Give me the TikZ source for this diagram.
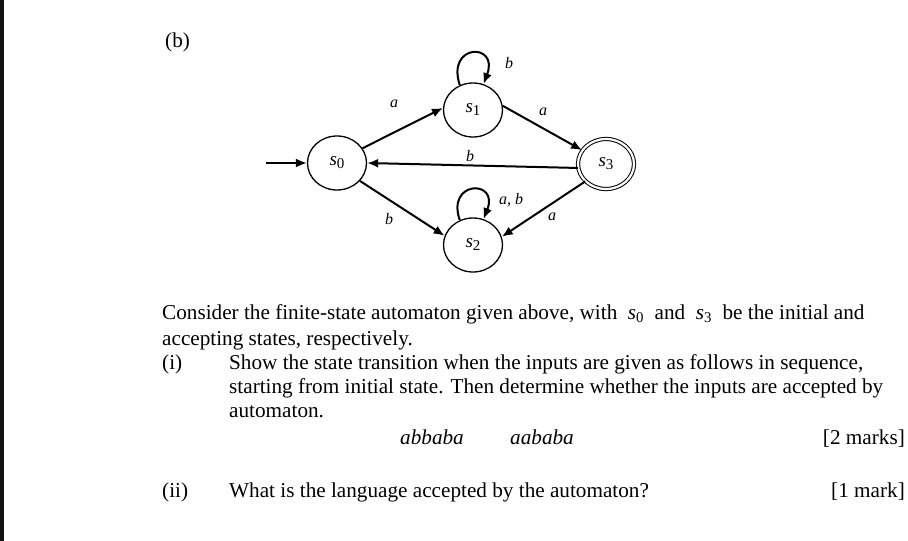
\documentclass[tikz,border=0pt]{standalone}
\usepackage{fontspec}
\setmainfont{Liberation Serif}
\usetikzlibrary{arrows.meta,shapes.geometric}
\begin{document}
\begin{tikzpicture}[x=1pt,y=1pt,
  state/.style={draw, ellipse, line width=1.3pt, minimum width=59pt, minimum height=54pt, inner sep=0pt, font=\fontsize{19}{19}\selectfont},
  accstate/.style={state, line width=1pt, double, double distance=2.2pt, minimum width=56pt, minimum height=50pt},
  tr/.style={-{Latex[length=11pt,width=9pt]}, line width=2pt},
  lbl/.style={font=\fontsize{16}{16}\selectfont\itshape, inner sep=0pt},
  txt/.style={anchor=base west, inner sep=0pt, font=\fontsize{21.2}{21.2}\selectfont},
  txtr/.style={anchor=base east, inner sep=0pt, font=\fontsize{21.2}{21.2}\selectfont},
]
\useasboundingbox (0,0) rectangle (908,-541);
\fill[black!93] (0,0) rectangle (4,-541);

% states
\node[state] (s0) at (337,-163) {\textit{s}\raisebox{-3pt}{\fontsize{15}{15}\selectfont 0}};
\node[state] (s1) at (473,-110) {\textit{s}\raisebox{-3pt}{\fontsize{15}{15}\selectfont 1}};
\node[state] (s2) at (473,-245) {\textit{s}\raisebox{-3pt}{\fontsize{15}{15}\selectfont 2}};
\node[accstate] (s3) at (606,-164) {\textit{s}\raisebox{-3pt}{\fontsize{15}{15}\selectfont 3}};
\coordinate (init) at (266,-163);

% transitions
\draw[tr] (init) -- (s0.west);
\draw[tr] (s0.30) -- (s1.176);
\draw[tr] (s1.8) -- (s3.150);
\draw[tr] (s3.188) -- (s0.east);
\draw[tr] (s0.-38) -- (s2.162);
\draw[tr] (s3.220) -- (s2.16);
\draw[tr] (s1.118) .. controls +(-14,42) and +(16,42) .. (s1.68);
\draw[tr] (s2.118) .. controls +(-14,40) and +(16,40) .. (s2.68);

% labels
\node[lbl] (la1) at (394,-104) {a};
\node[lbl] (lb1) at (509,-63) {b};
\node[lbl] (la2) at (543,-112) {a};
\node[lbl] (lb2) at (470,-156) {b};
\node[lbl] (lb3) at (389,-219) {b};
\node[lbl] (la3) at (552,-217) {a};
\node[lbl] (lab) at (511,-200) {a, b};

% text
\node[txt] (tb) at (165,-47) {(b)};
\node[txt] (l1) at (162,-319) {Consider the finite-state automaton given above, with \ \textit{s}\textsubscript{0} \ and \ \textit{s}\textsubscript{3} \ be the initial and};
\node[txt] (l2) at (162,-345) {accepting states, respectively.};
\node[txt] (l3a) at (162,-369) {(i)};
\node[txt] (l3) at (229,-369) {Show the state transition when the inputs are given as follows in sequence,};
\node[txt] (l4) at (229,-393) {starting from initial state. Then determine whether the inputs are accepted by};
\node[txt] (l5) at (229,-417) {automaton.};
\node[txt] (w1) at (400,-444) {\itshape abbaba};
\node[txt] (w2) at (510,-444) {\itshape aababa};
\node[txtr] (m2) at (905,-444) {[2 marks]};
\node[txt] (l6a) at (162,-497) {(ii)};
\node[txt] (l6) at (229,-497) {What is the language accepted by the automaton?};
\node[txtr] (m1) at (905,-497) {[1 mark]};
\end{tikzpicture}
\end{document}
